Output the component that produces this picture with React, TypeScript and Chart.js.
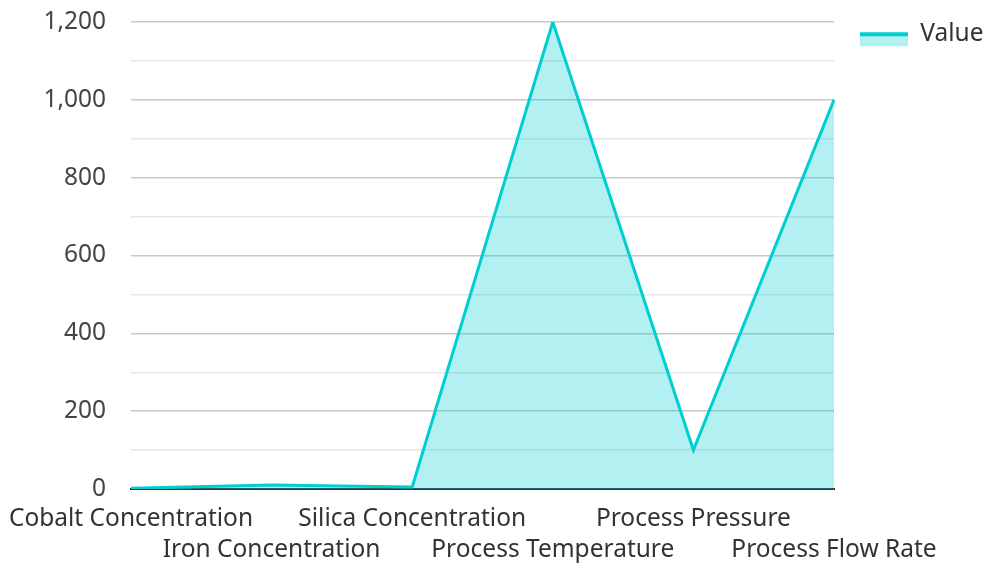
import React, { useEffect, useRef } from "react";
import { Chart, registerables } from "chart.js";

Chart.register(...registerables);

const categories = [
  "Cobalt Concentration",
  "Iron Concentration",
  "Silica Concentration",
  "Process Temperature",
  "Process Pressure",
  "Process Flow Rate",
];
const seriesName = "Value";
const values = [2, 10, 5, 1200, 100, 1000];
const yMin = 0;
const yMax = 1200;
const yStep = 100;
const yLabelStep = 200;

const LINE = "#00CED1";
const FILL = "rgba(0,206,209,0.3)";
const FONT = "'Noto Sans', 'Open Sans', sans-serif";
const FS = 24.5;
const ICON_OFFSET = 26;

function makeLegendIcon(): HTMLCanvasElement {
  const img = document.createElement("canvas");
  img.width = 48 + ICON_OFFSET;
  img.height = 28;
  const ctx = img.getContext("2d")!;
  ctx.fillStyle = FILL;
  ctx.fillRect(ICON_OFFSET, 14, 48, 12);
  ctx.fillStyle = LINE;
  ctx.fillRect(ICON_OFFSET, 12, 48, 4);
  return img;
}

export default function App() {
  const ref = useRef<HTMLCanvasElement | null>(null);
  useEffect(() => {
    if (!ref.current) return;
    const icon = makeLegendIcon();
    const chart = new Chart(ref.current, {
      type: "line",
      data: {
        labels: categories,
        datasets: [
          {
            label: seriesName,
            data: values,
            borderColor: LINE,
            backgroundColor: FILL,
            borderWidth: 3,
            fill: "origin",
            tension: 0,
            pointRadius: 0,
            pointHoverRadius: 0,
          },
        ],
      },
      options: {
        animation: false,
        responsive: true,
        maintainAspectRatio: false,
        layout: { padding: { top: 22, right: 0, bottom: 0, left: 10 } },
        plugins: {
          tooltip: { enabled: false },
          legend: {
            position: "right",
            align: "start",
            maxWidth: 149,
            labels: {
              usePointStyle: true,
              pointStyleWidth: 48 + ICON_OFFSET,
              boxHeight: FS,
              color: "#333",
              font: { family: FONT, size: FS },
              padding: 0,
              generateLabels: (ch: any) =>
                ch.data.datasets.map((d: any, i: number) => ({
                  text: d.label,
                  pointStyle: icon,
                  fillStyle: FILL,
                  strokeStyle: LINE,
                  lineWidth: 0,
                  fontColor: "#333",
                  hidden: false,
                  datasetIndex: i,
                })),
            },
          },
        },
        scales: {
          x: {
            offset: false,
            grid: { display: false, drawTicks: false },
            border: { display: true, color: "#333", width: 2 },
            afterFit: (s: any) => {
              s.height = 74;
              s.paddingLeft = 0;
            },
            ticks: {
              autoSkip: false,
              maxRotation: 0,
              minRotation: 0,
              padding: 15,
              color: "#333",
              font: { family: FONT, size: FS, lineHeight: 1.25 },
              callback: (_v: any, i: number) =>
                i % 2 === 0 ? [categories[i]] : ["", categories[i]],
            },
          },
          y: {
            min: yMin,
            max: yMax,
            border: { display: false },
            afterFit: (s: any) => {
              s.width = 121;
              s.paddingTop = 0;
              s.paddingBottom = 0;
            },
            grid: {
              drawTicks: false,
              color: (ctx: any) =>
                ctx.tick && ctx.tick.value % yLabelStep === 0 ? "#c8c8c8" : "#e6e6e6",
              lineWidth: 1.5,
            },
            ticks: {
              stepSize: yStep,
              padding: 25,
              color: "#444",
              font: { family: FONT, size: FS },
              callback: (v: any) =>
                Number(v) % yLabelStep === 0 ? Number(v).toLocaleString("en-US") : "",
            },
          },
        },
      },
    });
    return () => chart.destroy();
  }, []);
  return (
    <div style={{ position: "absolute", left: 0, top: 0, width: 983, height: 563 }}>
      <canvas ref={ref} />
    </div>
  );
}
